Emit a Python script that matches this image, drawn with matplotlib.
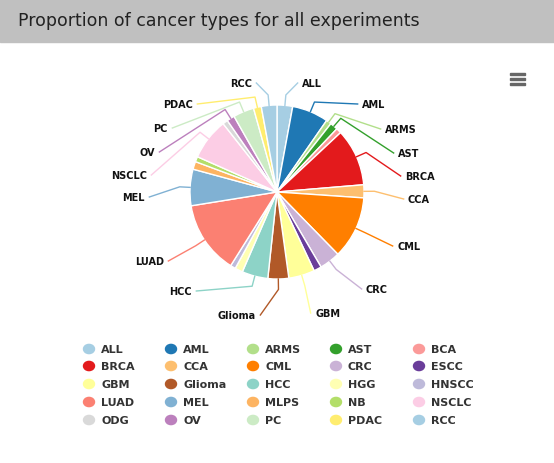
import numpy as np
import matplotlib.pyplot as plt
from matplotlib.patches import Rectangle

# data
types = ['ALL', 'AML', 'ARMS', 'AST', 'BCA', 'BRCA', 'CCA', 'CML', 'CRC', 'ESCC',
         'GBM', 'Glioma', 'HCC', 'HGG', 'HNSCC', 'LUAD', 'MEL', 'MLPS', 'NB', 'NSCLC',
         'ODG', 'OV', 'PC', 'PDAC', 'RCC']
shares = [3, 7, 1, 1.5, 1, 11, 2.5, 12, 4, 1.5,
          5, 4, 5, 1.5, 1, 14, 7, 1.5, 1, 8,
          1, 1.5, 4, 1.5, 3]
colors = ['#a6cee3', '#1f78b4', '#b2df8a', '#33a02c', '#fb9a99', '#e31a1c', '#fdbf6f',
          '#ff7f00', '#cab2d6', '#6a3d9a', '#ffff99', '#b15928', '#8dd3c7', '#ffffb3',
          '#bebada', '#fb8072', '#80b1d3', '#fdb462', '#b3de69', '#fccde5', '#d9d9d9',
          '#bc80bd', '#ccebc5', '#ffed6f', '#a6cee3']

# label placement in pixels (layout only)
label_px = {'ALL': (302, 84), 'AML': (362, 105), 'ARMS': (385, 130), 'AST': (398, 154),
            'BRCA': (405, 177), 'CCA': (408, 200), 'CML': (397, 247), 'CRC': (366, 290),
            'GBM': (315, 314), 'Glioma': (256, 316), 'HCC': (192, 292), 'LUAD': (164, 262),
            'MEL': (145, 198), 'NSCLC': (147, 176), 'OV': (155, 153), 'PC': (168, 129),
            'PDAC': (193, 105), 'RCC': (252, 84)}

W, H = 554, 464
fig = plt.figure(figsize=(W / 100, H / 100), dpi=100)
fig.patches.append(Rectangle((0, 1 - 43 / H), 1, 43 / H, transform=fig.transFigure,
                             color='#c0c0c0', zorder=0))
fig.text(18 / W, 1 - 21 / H, 'Proportion of cancer types for all experiments',
         fontsize=12.5, va='center', color='#222222')
for dy in (-5, 0, 5):
    fig.patches.append(Rectangle((510 / W, 1 - (80 + dy + 1.2) / H), 15 / W, 2.4 / H,
                                 transform=fig.transFigure, color='#666666'))

cx, cy, R = 277, 193, 87
ax = fig.add_axes([(cx - R) / W, 1 - (cy + R) / H, 2 * R / W, 2 * R / H])
wedges, _ = ax.pie(shares, colors=colors, startangle=90, counterclock=False,
                   wedgeprops=dict(edgecolor='white', linewidth=1))
ax.set_xlim(-1, 1)
ax.set_ylim(-1, 1)
ax.axis('off')

for w, name in zip(wedges, types):
    if name not in label_px:
        continue
    ang = np.deg2rad((w.theta1 + w.theta2) / 2)
    lx, ly = label_px[name]
    tx, ty = (lx - cx) / R, (cy - ly) / R
    right = tx > 0
    x0, y0 = np.cos(ang), np.sin(ang)
    x1, y1 = 1.12 * x0, 1.12 * y0
    ex = tx - 0.05 if right else tx + 0.05
    ax.plot([x0, x1, ex], [y0, y1, ty], color=w.get_facecolor(), lw=1, clip_on=False)
    ax.text(tx, ty, name, ha='left' if right else 'right', va='center', fontsize=7,
            fontweight='bold', color='#111111', clip_on=False)

# legend
col_x = [89, 171, 253, 336, 419]
row_y = [350, 367, 385, 403, 421]
for i, (name, c) in enumerate(zip(types, colors)):
    x, y = col_x[i % 5], row_y[i // 5]
    fig.patches.append(plt.Circle((x / W, 1 - y / H), 5.5 / W, transform=fig.transFigure,
                                  color=c))
    fig.text((x + 12) / W, 1 - y / H, name, fontsize=8, fontweight='bold',
             va='center', color='#333333')

fig.savefig('out.png', dpi=100)
